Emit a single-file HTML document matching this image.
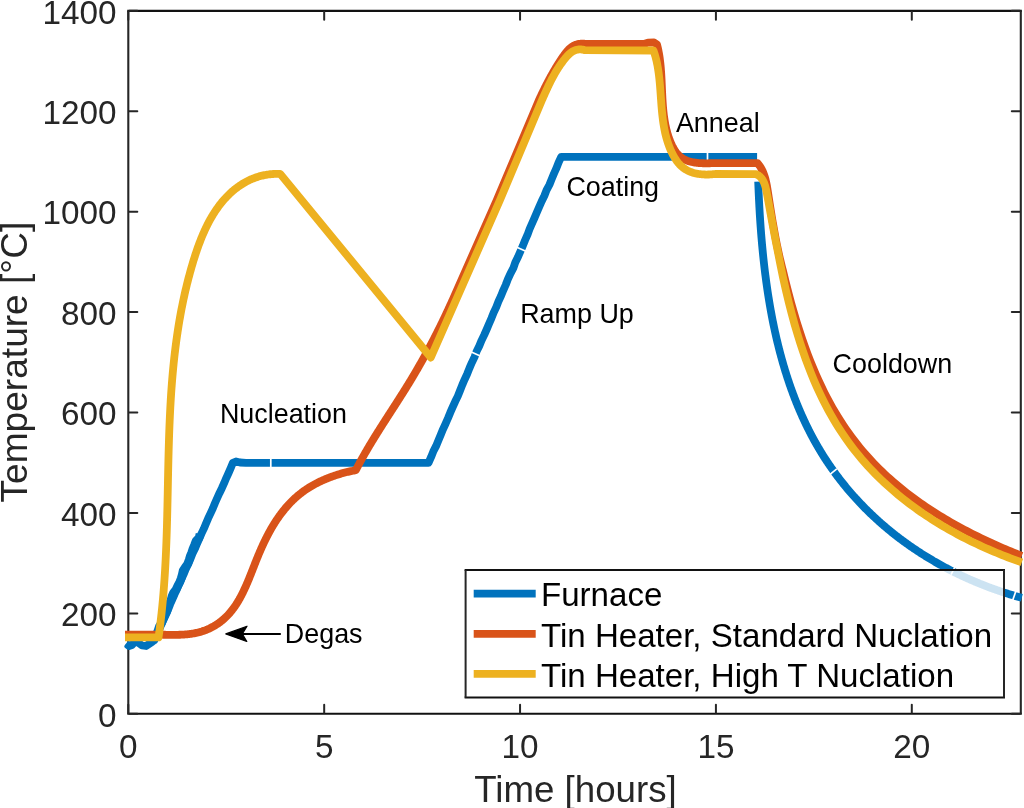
<!DOCTYPE html>
<html><head><meta charset="utf-8"><style>
html,body{margin:0;padding:0;background:#fff;width:1024px;height:808px;overflow:hidden}
svg text{font-family:"Liberation Sans",sans-serif}
svg{will-change:transform}
</style></head><body>
<svg width="1024" height="808" viewBox="0 0 1024 808" style="position:absolute;left:0;top:0">
<line x1="127.25" y1="10.85" x2="1021.85" y2="10.85" stroke="#121212" stroke-width="2.1"/>
<line x1="127.25" y1="713.8" x2="1021.85" y2="713.8" stroke="#121212" stroke-width="2.1"/>
<line x1="128.3" y1="10.85" x2="128.3" y2="713.8" stroke="#262626" stroke-width="2.1"/>
<line x1="1020.8" y1="10.85" x2="1020.8" y2="713.8" stroke="#262626" stroke-width="2.1"/>
<line x1="129.3" y1="713.8" x2="137.3" y2="713.8" stroke="#262626" stroke-width="2" stroke-linecap="round"/>
<line x1="1011.8" y1="713.8" x2="1019.8" y2="713.8" stroke="#262626" stroke-width="2" stroke-linecap="round"/>
<line x1="129.3" y1="613.38" x2="137.3" y2="613.38" stroke="#262626" stroke-width="2" stroke-linecap="round"/>
<line x1="1011.8" y1="613.38" x2="1019.8" y2="613.38" stroke="#262626" stroke-width="2" stroke-linecap="round"/>
<line x1="129.3" y1="512.96" x2="137.3" y2="512.96" stroke="#262626" stroke-width="2" stroke-linecap="round"/>
<line x1="1011.8" y1="512.96" x2="1019.8" y2="512.96" stroke="#262626" stroke-width="2" stroke-linecap="round"/>
<line x1="129.3" y1="412.53" x2="137.3" y2="412.53" stroke="#262626" stroke-width="2" stroke-linecap="round"/>
<line x1="1011.8" y1="412.53" x2="1019.8" y2="412.53" stroke="#262626" stroke-width="2" stroke-linecap="round"/>
<line x1="129.3" y1="312.11" x2="137.3" y2="312.11" stroke="#262626" stroke-width="2" stroke-linecap="round"/>
<line x1="1011.8" y1="312.11" x2="1019.8" y2="312.11" stroke="#262626" stroke-width="2" stroke-linecap="round"/>
<line x1="129.3" y1="211.69" x2="137.3" y2="211.69" stroke="#262626" stroke-width="2" stroke-linecap="round"/>
<line x1="1011.8" y1="211.69" x2="1019.8" y2="211.69" stroke="#262626" stroke-width="2" stroke-linecap="round"/>
<line x1="129.3" y1="111.27" x2="137.3" y2="111.27" stroke="#262626" stroke-width="2" stroke-linecap="round"/>
<line x1="1011.8" y1="111.27" x2="1019.8" y2="111.27" stroke="#262626" stroke-width="2" stroke-linecap="round"/>
<line x1="129.3" y1="10.85" x2="137.3" y2="10.85" stroke="#262626" stroke-width="2" stroke-linecap="round"/>
<line x1="1011.8" y1="10.85" x2="1019.8" y2="10.85" stroke="#262626" stroke-width="2" stroke-linecap="round"/>
<line x1="128.3" y1="712.8" x2="128.3" y2="704.8" stroke="#262626" stroke-width="2" stroke-linecap="round"/>
<line x1="128.3" y1="11.85" x2="128.3" y2="19.85" stroke="#262626" stroke-width="2" stroke-linecap="round"/>
<line x1="324.18" y1="712.8" x2="324.18" y2="704.8" stroke="#262626" stroke-width="2" stroke-linecap="round"/>
<line x1="324.18" y1="11.85" x2="324.18" y2="19.85" stroke="#262626" stroke-width="2" stroke-linecap="round"/>
<line x1="520.05" y1="712.8" x2="520.05" y2="704.8" stroke="#262626" stroke-width="2" stroke-linecap="round"/>
<line x1="520.05" y1="11.85" x2="520.05" y2="19.85" stroke="#262626" stroke-width="2" stroke-linecap="round"/>
<line x1="715.92" y1="712.8" x2="715.92" y2="704.8" stroke="#262626" stroke-width="2" stroke-linecap="round"/>
<line x1="715.92" y1="11.85" x2="715.92" y2="19.85" stroke="#262626" stroke-width="2" stroke-linecap="round"/>
<line x1="911.8" y1="712.8" x2="911.8" y2="704.8" stroke="#262626" stroke-width="2" stroke-linecap="round"/>
<line x1="911.8" y1="11.85" x2="911.8" y2="19.85" stroke="#262626" stroke-width="2" stroke-linecap="round"/>
<defs><clipPath id="ax"><rect x="124.3" y="6.85" width="900.5" height="710.95"/></clipPath></defs>
<g clip-path="url(#ax)">
<path d="M126,643.5 L129,646 L132,645 L135,641.5 L138,642.5 L142,645.5 L146,646 L149,644 L152,642 L154.5,640 L156.76,634.95 L159.06,629.91 L161.14,624.78 L163.46,619.75 L165.84,614.75 L168.08,609.69 L170.04,604.5 L172.31,599.45 L174.5,594.36 L176.88,589.36 L178.97,584.23 L181.36,579.24 L183.67,574.21 L185.78,569.08 L188.16,564.09 L190.37,559.01 L192.41,553.85 L194.84,548.88 L196.97,543.77 L199.27,538.73 L201.46,533.64 L203.85,528.65 L206,523.54 L208.13,518.44 L210.52,513.44 L212.84,508.41 L214.91,503.27 L217.12,498.2 L219.42,493.16 L221.86,488.18 L224.11,483.13 L226.24,478.02 L228.57,472.99 L230.79,467.92 L232.9,462.8 L236,461.5 L240,462.5 L246,462.8 L428.5,462.8 L431.03,457.2 L433.26,451.56 L436.03,446.15 L438.37,440.56 L440.66,434.94 L442.98,429.34 L445.5,423.83 L447.95,418.28 L450.23,412.66 L452.66,407.11 L455.17,401.59 L457.84,396.14 L460.07,390.5 L462.29,384.85 L464.69,379.28 L467.22,373.77 L469.47,368.14 L471.87,362.57 L474.48,357.09 L476.62,351.41 L479.28,345.96 L481.61,340.36 L484.24,334.89 L486.68,329.34 L489.05,323.76 L491.46,318.2 L493.66,312.55 L496.26,307.06 L498.46,301.41 L501.02,295.91 L503.27,290.28 L505.76,284.75 L507.92,279.08 L510.44,273.56 L513.32,268.2 L515.25,262.43 L517.96,257 L520.34,251.42 L522.8,245.88 L525.05,240.25 L527.53,234.72 L529.6,229.01 L532.02,223.44 L534.51,217.92 L536.89,212.34 L539.26,206.76 L541.69,201.21 L544.37,195.76 L546.54,190.09 L549.44,184.74 L551.68,179.11 L554,173.5 L556.51,167.98 L558.64,162.3 L561.2,156.8 L757.1,156.8" fill="none" stroke="#0072BD" stroke-width="7.8" stroke-linejoin="round" stroke-linecap="butt" />
<path d="M758.2,181.6 L758.24,182.6 L758.28,183.61 L758.32,184.61 L758.36,185.61 L758.4,186.61 L758.44,187.62 L758.48,188.62 L758.52,189.62 L758.57,190.62 L758.61,191.63 L758.65,192.63 L758.7,193.63 L758.74,194.63 L758.79,195.64 L758.84,196.64 L758.88,197.64 L758.93,198.64 L758.98,199.65 L759.03,200.65 L759.08,201.65 L759.13,202.65 L759.19,203.65 L759.24,204.66 L759.29,205.66 L759.35,206.66 L759.4,207.66 L759.46,208.66 L759.52,209.67 L759.57,210.67 L759.63,211.67 L759.69,212.67 L759.75,213.67 L759.81,214.67 L759.87,215.67 L759.94,216.68 L760,217.68 L760.07,218.68 L760.13,219.68 L760.2,220.68 L760.26,221.68 L760.33,222.68 L760.4,223.68 L760.47,224.69 L760.54,225.69 L760.61,226.69 L760.69,227.69 L760.76,228.69 L760.83,229.69 L760.91,230.69 L760.99,231.69 L761.06,232.69 L761.14,233.69 L761.22,234.69 L761.3,235.69 L761.38,236.69 L761.47,237.69 L761.55,238.69 L761.64,239.69 L761.72,240.69 L761.81,241.69 L761.9,242.69 L761.98,243.69 L762.07,244.69 L762.16,245.69 L762.26,246.69 L762.35,247.69 L762.44,248.69 L762.54,249.68 L762.64,250.68 L762.73,251.68 L762.83,252.68 L762.93,253.68 L763.03,254.68 L763.13,255.68 L763.24,256.67 L763.34,257.67 L763.45,258.67 L763.55,259.67 L763.66,260.66 L763.77,261.66 L763.88,262.66 L763.99,263.66 L764.11,264.65 L764.22,265.65 L764.34,266.65 L764.45,267.64 L764.57,268.64 L764.69,269.64 L764.81,270.63 L764.93,271.63 L765.05,272.63 L765.18,273.62 L765.3,274.62 L765.43,275.61 L765.56,276.61 L765.69,277.6 L765.82,278.6 L765.95,279.59 L766.08,280.59 L766.22,281.58 L766.35,282.57 L766.49,283.57 L766.63,284.56 L766.77,285.56 L766.91,286.55 L767.05,287.54 L767.2,288.54 L767.34,289.53 L767.49,290.52 L767.64,291.51 L767.79,292.51 L767.94,293.5 L768.09,294.49 L768.25,295.48 L768.4,296.47 L768.56,297.46 L768.72,298.45 L768.88,299.44 L769.04,300.43 L769.2,301.42 L769.37,302.41 L769.54,303.4 L769.7,304.39 L769.87,305.38 L770.04,306.37 L770.22,307.36 L770.39,308.35 L770.57,309.33 L770.74,310.32 L770.92,311.31 L771.1,312.3 L771.29,313.28 L771.47,314.27 L771.65,315.26 L771.84,316.24 L772.03,317.23 L772.22,318.21 L772.41,319.2 L772.61,320.18 L772.8,321.17 L773,322.15 L773.2,323.13 L773.4,324.12 L773.6,325.1 L773.8,326.08 L774.01,327.06 L774.22,328.05 L774.43,329.03 L774.64,330.01 L774.85,330.99 L775.06,331.97 L775.28,332.95 L775.5,333.93 L775.72,334.91 L775.94,335.89 L776.16,336.86 L776.39,337.84 L776.62,338.82 L776.85,339.8 L777.08,340.77 L777.31,341.75 L777.55,342.72 L777.78,343.7 L778.02,344.67 L778.26,345.65 L778.5,346.62 L778.75,347.59 L778.99,348.57 L779.24,349.54 L779.49,350.51 L779.75,351.48 L780,352.45 L780.26,353.42 L780.51,354.39 L780.77,355.36 L781.04,356.33 L781.3,357.3 L781.57,358.27 L781.83,359.23 L782.11,360.2 L782.38,361.16 L782.65,362.13 L782.93,363.09 L783.21,364.06 L783.49,365.02 L783.77,365.98 L784.06,366.95 L784.34,367.91 L784.63,368.87 L784.92,369.83 L785.22,370.79 L785.51,371.75 L785.81,372.71 L786.11,373.66 L786.42,374.62 L786.72,375.58 L787.03,376.53 L787.34,377.49 L787.65,378.44 L787.96,379.39 L788.28,380.34 L788.59,381.3 L788.92,382.25 L789.24,383.2 L789.56,384.15 L789.89,385.1 L790.22,386.04 L790.55,386.99 L790.89,387.94 L791.22,388.88 L791.56,389.83 L791.9,390.77 L792.25,391.71 L792.59,392.65 L792.94,393.59 L793.29,394.53 L793.65,395.47 L794,396.41 L794.36,397.35 L794.72,398.29 L795.08,399.22 L795.45,400.16 L795.82,401.09 L796.19,402.02 L796.56,402.95 L796.94,403.88 L797.31,404.81 L797.69,405.74 L798.08,406.67 L798.46,407.6 L798.85,408.52 L799.24,409.44 L799.63,410.37 L800.03,411.29 L800.43,412.21 L800.83,413.13 L801.23,414.05 L801.64,414.97 L802.05,415.88 L802.46,416.8 L802.87,417.71 L803.29,418.63 L803.71,419.54 L804.13,420.45 L804.56,421.36 L804.98,422.26 L805.41,423.17 L805.84,424.08 L806.28,424.98 L806.72,425.88 L807.16,426.79 L807.6,427.69 L808.05,428.58 L808.5,429.48 L808.95,430.38 L809.4,431.27 L809.86,432.17 L810.32,433.06 L810.78,433.95 L811.25,434.84 L811.72,435.72 L812.19,436.61 L812.66,437.5 L813.14,438.38 L813.62,439.26 L814.1,440.14 L814.58,441.02 L815.07,441.9 L815.56,442.77 L816.05,443.64 L816.55,444.52 L817.05,445.39 L817.55,446.26 L818.06,447.12 L818.56,447.99 L819.07,448.85 L819.59,449.72 L820.1,450.58 L820.62,451.43 L821.14,452.29 L821.67,453.15 L822.2,454 L822.73,454.85 L823.26,455.7 L823.8,456.55 L824.33,457.4 L824.88,458.24 L825.42,459.08 L825.97,459.92 L826.52,460.76 L827.07,461.6 L827.63,462.44 L828.19,463.27 L828.75,464.1 L829.31,464.93 L829.88,465.76 L830.45,466.58 L831.02,467.41 L831.6,468.23 L832.18,469.05 L832.76,469.87 L833.34,470.68 L833.93,471.5 L834.52,472.31 L835.11,473.12 L835.7,473.93 L836.3,474.74 L836.9,475.54 L837.5,476.34 L838.1,477.14 L838.71,477.94 L839.32,478.74 L839.93,479.53 L840.55,480.33 L841.17,481.12 L841.79,481.91 L842.41,482.69 L843.04,483.48 L843.66,484.26 L844.3,485.04 L844.93,485.82 L845.56,486.6 L846.2,487.37 L846.84,488.14 L847.49,488.91 L848.13,489.68 L848.78,490.45 L849.43,491.21 L850.08,491.97 L850.74,492.73 L851.4,493.49 L852.06,494.24 L852.72,495 L853.39,495.75 L854.06,496.5 L854.73,497.24 L855.4,497.99 L856.07,498.73 L856.75,499.47 L857.43,500.21 L858.11,500.94 L858.8,501.68 L859.48,502.41 L860.17,503.14 L860.86,503.87 L861.56,504.59 L862.25,505.31 L862.95,506.03 L863.65,506.75 L864.36,507.47 L865.06,508.18 L865.77,508.89 L866.48,509.6 L867.19,510.31 L867.9,511.02 L868.62,511.72 L869.34,512.42 L870.06,513.12 L870.78,513.81 L871.51,514.51 L872.24,515.2 L872.97,515.89 L873.7,516.57 L874.43,517.26 L875.17,517.94 L875.91,518.62 L876.65,519.3 L877.39,519.97 L878.13,520.64 L878.88,521.31 L879.63,521.98 L880.38,522.65 L881.13,523.31 L881.89,523.97 L882.64,524.63 L883.4,525.29 L884.16,525.94 L884.93,526.59 L885.69,527.24 L886.46,527.89 L887.23,528.53 L888,529.17 L888.77,529.81 L889.55,530.45 L890.33,531.08 L891.11,531.72 L891.89,532.35 L892.67,532.97 L893.45,533.6 L894.24,534.22 L895.03,534.84 L895.82,535.46 L896.61,536.07 L897.41,536.69 L898.2,537.3 L899,537.91 L899.8,538.51 L900.6,539.11 L901.41,539.71 L902.21,540.31 L903.02,540.91 L903.83,541.5 L904.64,542.09 L905.45,542.68 L906.27,543.27 L907.08,543.85 L907.9,544.43 L908.72,545.01 L909.54,545.59 L910.37,546.16 L911.19,546.74 L912.02,547.3 L912.84,547.87 L913.67,548.44 L914.51,549 L915.34,549.56 L916.17,550.11 L917.01,550.67 L917.85,551.22 L918.69,551.77 L919.53,552.32 L920.37,552.86 L921.21,553.41 L922.06,553.95 L922.91,554.48 L923.76,555.02 L924.61,555.55 L925.46,556.08 L926.31,556.61 L927.17,557.13 L928.02,557.66 L928.88,558.18 L929.74,558.69 L930.6,559.21 L931.46,559.72 L932.33,560.23 L933.19,560.74 L934.06,561.25 L934.93,561.75 L935.8,562.25 L936.67,562.75 L937.54,563.25 L938.41,563.74 L939.29,564.23 L940.17,564.72 L941.04,565.2 L941.92,565.69 L942.8,566.17 L943.69,566.65 L944.57,567.12 L945.45,567.6 L946.34,568.07 L947.23,568.54 L948.11,569 L949,569.47 L949.9,569.93 L950.79,570.39 L951.68,570.84 L952.58,571.3 L953.47,571.75 L954.37,572.2 L955.27,572.64 L956.17,573.09 L957.07,573.53 L957.97,573.97 L958.88,574.4 L959.78,574.84 L960.69,575.27 L961.59,575.7 L962.5,576.12 L963.41,576.55 L964.32,576.97 L965.24,577.39 L966.15,577.8 L967.06,578.21 L967.98,578.63 L968.89,579.03 L969.81,579.44 L970.73,579.84 L971.65,580.25 L972.57,580.64 L973.49,581.04 L974.42,581.43 L975.34,581.82 L976.27,582.21 L977.19,582.6 L978.12,582.98 L979.05,583.36 L979.98,583.74 L980.91,584.12 L981.84,584.49 L982.77,584.86 L983.71,585.23 L984.64,585.59 L985.58,585.95 L986.51,586.31 L987.45,586.67 L988.39,587.03 L989.33,587.38 L990.27,587.73 L991.21,588.08 L992.15,588.42 L993.1,588.76 L994.04,589.1 L994.98,589.44 L995.93,589.77 L996.88,590.1 L997.83,590.43 L998.77,590.76 L999.72,591.08 L1000.67,591.4 L1001.63,591.72 L1002.58,592.04 L1003.53,592.35 L1004.49,592.66 L1005.44,592.97 L1006.4,593.28 L1007.35,593.58 L1008.31,593.88 L1009.27,594.18 L1010.23,594.47 L1011.19,594.76 L1012.15,595.05 L1013.11,595.34 L1014.07,595.62 L1015.04,595.9 L1016,596.18 L1016.97,596.46 L1017.93,596.73 L1018.9,597 L1019.86,597.27 L1020.83,597.53 L1021.8,597.79" fill="none" stroke="#0072BD" stroke-width="7.8" stroke-linejoin="round" stroke-linecap="butt" />
<path d="M153,641 L155.32,637.62 L156.8,633.87 L158.24,630.09 L159.45,626.23 L161.67,622.8 L163.13,619.04 L164.61,615.29 L166.65,611.78 L167.81,607.89 L168.99,604.01 L170.91,600.45 L171.95,596.5 L173.56,592.81 L176.06,589.51 L177.78,585.86 L179.71,582.31 L181.13,578.53 L182.24,574.62 L183.12,570.6 L185.4,567.2 L187.74,563.83 L189.13,560.04 L190.25,556.13 L191.82,552.42 L193.05,548.55 L194.61,544.84 L196.06,541.07 L199.03,537.97 L200,534" fill="none" stroke="#0072BD" stroke-width="8.6" stroke-linejoin="round" stroke-linecap="butt" />
<line x1="270.8" y1="457.3" x2="270.8" y2="468.3" stroke="#fff" stroke-width="1.7"/>
<line x1="470.75" y1="351.82" x2="480.85" y2="356.18" stroke="#fff" stroke-width="1.7"/>
<line x1="515.75" y1="246.82" x2="525.85" y2="251.18" stroke="#fff" stroke-width="1.7"/>
<line x1="707.5" y1="151.3" x2="707.5" y2="162.3" stroke="#fff" stroke-width="1.7"/>
<line x1="836.79" y1="468.96" x2="828.21" y2="475.84" stroke="#fff" stroke-width="1.7"/>
<line x1="955.96" y1="564.88" x2="951.04" y2="574.72" stroke="#fff" stroke-width="1.7"/>
<line x1="1015.82" y1="591.31" x2="1012.18" y2="601.69" stroke="#fff" stroke-width="1.7"/>
<path d="M125,634.7 L160,634.7 L161.01,634.71 L162.01,634.72 L163.02,634.73 L164.03,634.75 L165.04,634.76 L166.04,634.78 L167.05,634.79 L168.06,634.8 L169.06,634.82 L170.07,634.83 L171.08,634.84 L172.08,634.84 L173.09,634.84 L174.1,634.84 L175.11,634.84 L176.11,634.83 L177.12,634.81 L178.13,634.79 L179.13,634.76 L180.14,634.73 L181.15,634.69 L182.15,634.64 L183.16,634.58 L184.16,634.52 L185.17,634.45 L186.17,634.37 L187.17,634.27 L188.18,634.17 L189.18,634.06 L190.18,633.93 L191.17,633.8 L192.17,633.65 L193.16,633.49 L194.16,633.32 L195.15,633.13 L196.13,632.93 L197.12,632.71 L198.1,632.48 L199.07,632.23 L200.04,631.96 L201.01,631.68 L201.97,631.39 L202.93,631.07 L203.88,630.74 L204.83,630.4 L205.77,630.04 L206.7,629.66 L207.63,629.27 L208.55,628.86 L209.47,628.44 L210.37,628 L211.27,627.55 L212.17,627.08 L213.05,626.6 L213.93,626.11 L214.8,625.6 L215.66,625.08 L216.51,624.54 L217.35,623.99 L218.18,623.42 L219.01,622.84 L219.82,622.25 L220.63,621.64 L221.42,621.02 L222.2,620.39 L222.97,619.74 L223.74,619.08 L224.48,618.41 L225.22,617.72 L225.95,617.03 L226.67,616.32 L227.37,615.6 L228.06,614.87 L228.75,614.13 L229.42,613.38 L230.08,612.62 L230.73,611.85 L231.36,611.07 L231.99,610.28 L232.61,609.48 L233.21,608.68 L233.81,607.87 L234.39,607.05 L234.97,606.22 L235.54,605.39 L236.09,604.55 L236.64,603.7 L237.18,602.85 L237.7,601.99 L238.22,601.13 L238.73,600.26 L239.24,599.39 L239.73,598.51 L240.22,597.63 L240.7,596.75 L241.17,595.86 L241.64,594.96 L242.1,594.07 L242.55,593.17 L243,592.26 L243.44,591.36 L243.87,590.45 L244.3,589.54 L244.72,588.63 L245.14,587.71 L245.56,586.79 L245.97,585.87 L246.37,584.95 L246.77,584.03 L247.17,583.1 L247.57,582.17 L247.96,581.25 L248.34,580.32 L248.73,579.39 L249.11,578.45 L249.49,577.52 L249.87,576.59 L250.24,575.65 L250.62,574.72 L250.99,573.78 L251.36,572.84 L251.73,571.91 L252.1,570.97 L252.46,570.03 L252.83,569.1 L253.2,568.16 L253.57,567.22 L253.93,566.28 L254.3,565.34 L254.67,564.41 L255.04,563.47 L255.41,562.53 L255.78,561.6 L256.15,560.66 L256.53,559.73 L256.91,558.79 L257.28,557.86 L257.67,556.93 L258.05,556 L258.44,555.07 L258.82,554.14 L259.22,553.21 L259.61,552.28 L260.01,551.36 L260.41,550.43 L260.81,549.51 L261.22,548.59 L261.63,547.67 L262.05,546.75 L262.46,545.84 L262.88,544.92 L263.31,544.01 L263.74,543.1 L264.17,542.19 L264.61,541.28 L265.05,540.37 L265.49,539.47 L265.94,538.57 L266.39,537.67 L266.85,536.77 L267.31,535.87 L267.77,534.98 L268.24,534.09 L268.72,533.2 L269.19,532.32 L269.68,531.43 L270.17,530.55 L270.66,529.67 L271.16,528.8 L271.66,527.93 L272.17,527.06 L272.69,526.19 L273.21,525.33 L273.73,524.47 L274.26,523.61 L274.8,522.76 L275.34,521.91 L275.89,521.07 L276.44,520.22 L277,519.39 L277.56,518.55 L278.13,517.72 L278.71,516.9 L279.29,516.08 L279.88,515.26 L280.48,514.45 L281.08,513.64 L281.69,512.84 L282.3,512.04 L282.92,511.25 L283.55,510.46 L284.19,509.68 L284.83,508.9 L285.48,508.13 L286.13,507.36 L286.79,506.6 L287.46,505.85 L288.13,505.1 L288.81,504.36 L289.5,503.63 L290.2,502.9 L290.9,502.17 L291.61,501.46 L292.32,500.75 L293.05,500.05 L293.78,499.35 L294.51,498.67 L295.25,497.99 L296,497.31 L296.76,496.65 L297.52,495.99 L298.29,495.34 L299.07,494.7 L299.85,494.07 L300.64,493.44 L301.44,492.83 L302.24,492.22 L303.05,491.62 L303.87,491.03 L304.69,490.44 L305.51,489.87 L306.35,489.31 L307.19,488.75 L308.03,488.2 L308.88,487.66 L309.74,487.13 L310.6,486.61 L311.47,486.1 L312.34,485.59 L313.22,485.09 L314.1,484.6 L314.98,484.12 L315.87,483.65 L316.76,483.18 L317.66,482.73 L318.56,482.28 L319.46,481.83 L320.37,481.4 L321.28,480.97 L322.2,480.55 L323.12,480.14 L324.04,479.73 L324.96,479.33 L325.89,478.94 L326.82,478.56 L327.76,478.18 L328.69,477.81 L329.63,477.45 L330.57,477.09 L331.52,476.74 L332.47,476.4 L333.42,476.06 L334.37,475.73 L335.32,475.41 L336.28,475.09 L337.24,474.78 L338.2,474.48 L339.16,474.19 L340.12,473.9 L341.09,473.62 L342.06,473.34 L343.03,473.07 L344,472.81 L344.98,472.55 L345.95,472.31 L346.93,472.06 L347.91,471.83 L348.89,471.6 L349.87,471.38 L350.86,471.17 L351.84,470.96 L352.83,470.76 L353.82,470.56 L354.81,470.38 L355.8,470.2 L356.26,469.31 L356.72,468.41 L357.19,467.52 L357.65,466.63 L358.12,465.74 L358.6,464.86 L359.07,463.97 L359.55,463.09 L360.03,462.2 L360.51,461.32 L360.99,460.44 L361.48,459.56 L361.96,458.68 L362.45,457.8 L362.95,456.92 L363.44,456.05 L363.94,455.17 L364.43,454.3 L364.93,453.43 L365.43,452.56 L365.94,451.69 L366.44,450.82 L366.95,449.95 L367.46,449.08 L367.97,448.22 L368.48,447.35 L368.99,446.49 L369.51,445.62 L370.02,444.76 L370.54,443.9 L371.06,443.04 L371.58,442.18 L372.1,441.32 L372.62,440.46 L373.15,439.6 L373.67,438.75 L374.2,437.89 L374.73,437.03 L375.26,436.18 L375.79,435.33 L376.32,434.47 L376.85,433.62 L377.38,432.77 L377.91,431.91 L378.45,431.06 L378.98,430.21 L379.52,429.36 L380.06,428.51 L380.6,427.66 L381.13,426.82 L381.67,425.97 L382.21,425.12 L382.75,424.27 L383.3,423.42 L383.84,422.58 L384.38,421.73 L384.92,420.89 L385.46,420.04 L386.01,419.19 L386.55,418.35 L387.09,417.5 L387.64,416.66 L388.18,415.81 L388.73,414.97 L389.27,414.12 L389.82,413.28 L390.36,412.43 L390.91,411.59 L391.45,410.74 L392,409.9 L392.54,409.06 L393.09,408.21 L393.63,407.37 L394.18,406.52 L394.72,405.68 L395.27,404.83 L395.81,403.99 L396.35,403.14 L396.9,402.29 L397.44,401.45 L397.98,400.6 L398.52,399.76 L399.06,398.91 L399.61,398.06 L400.15,397.21 L400.69,396.37 L401.22,395.52 L401.76,394.67 L402.3,393.82 L402.84,392.97 L403.37,392.12 L403.91,391.27 L404.44,390.42 L404.98,389.57 L405.51,388.71 L406.04,387.86 L406.57,387.01 L407.1,386.15 L407.63,385.3 L408.16,384.44 L408.68,383.59 L409.21,382.73 L409.73,381.87 L410.26,381.01 L410.78,380.15 L411.3,379.29 L411.82,378.43 L412.33,377.57 L412.85,376.71 L413.36,375.84 L413.88,374.98 L414.39,374.11 L414.9,373.25 L415.41,372.38 L415.92,371.52 L416.43,370.65 L416.93,369.78 L417.44,368.91 L417.94,368.04 L418.44,367.17 L418.94,366.3 L419.44,365.43 L419.94,364.55 L420.44,363.68 L420.93,362.8 L421.43,361.93 L421.92,361.05 L422.41,360.18 L422.9,359.3 L423.39,358.42 L423.88,357.54 L424.37,356.66 L424.86,355.78 L425.34,354.9 L425.82,354.02 L426.3,353.14 L426.79,352.26 L427.27,351.37 L427.74,350.49 L428.22,349.6 L428.7,348.72 L429.17,347.83 L429.64,346.95 L430.12,346.06 L430.59,345.17 L431.06,344.28 L431.53,343.39 L431.99,342.5 L432.46,341.61 L432.92,340.72 L433.39,339.83 L433.85,338.94 L434.31,338.04 L434.77,337.15 L435.23,336.25 L435.69,335.36 L436.14,334.46 L436.6,333.57 L437.05,332.67 L437.5,331.77 L437.95,330.88 L438.4,329.98 L438.85,329.08 L439.3,328.18 L439.75,327.28 L440.19,326.38 L440.64,325.47 L441.08,324.57 L441.52,323.67 L441.96,322.77 L442.4,321.86 L442.84,320.96 L443.28,320.05 L443.71,319.15 L444.15,318.24 L444.58,317.33 L445.01,316.43 L445.45,315.52 L445.88,314.61 L446.3,313.7 L446.73,312.79 L447.16,311.88 L447.58,310.97 L448.01,310.06 L448.43,309.15 L448.85,308.23 L449.27,307.32 L449.69,306.41 L450.11,305.49 L450.53,304.58 L450.95,303.66 L451.36,302.75 L451.78,301.83 L452.19,300.92 L452.6,300 L496.8,200 L539,100 L539.43,99.07 L539.86,98.14 L540.29,97.22 L540.72,96.29 L541.16,95.36 L541.6,94.44 L542.04,93.52 L542.48,92.6 L542.93,91.68 L543.38,90.76 L543.83,89.84 L544.28,88.92 L544.73,88 L545.19,87.09 L545.65,86.18 L546.11,85.26 L546.58,84.35 L547.05,83.44 L547.52,82.54 L548,81.63 L548.47,80.73 L548.96,79.82 L549.44,78.92 L549.93,78.02 L550.42,77.13 L550.91,76.23 L551.41,75.34 L551.91,74.45 L552.41,73.56 L552.92,72.67 L553.43,71.78 L553.94,70.9 L554.46,70.02 L554.98,69.14 L555.51,68.26 L556.04,67.38 L556.57,66.51 L557.11,65.64 L557.65,64.77 L558.19,63.9 L558.74,63.04 L559.29,62.18 L559.85,61.32 L560.41,60.47 L560.97,59.61 L561.54,58.76 L562.11,57.91 L562.69,57.07 L563.27,56.23 L563.86,55.39 L564.45,54.56 L565.06,53.74 L565.69,52.93 L566.32,52.13 L566.98,51.34 L567.66,50.58 L568.36,49.83 L569.08,49.11 L569.83,48.41 L570.61,47.75 L571.42,47.13 L572.26,46.54 L573.13,46 L574.03,45.52 L574.96,45.09 L575.91,44.71 L576.88,44.4 L577.87,44.14 L578.87,43.94 L579.89,43.8 L580.91,43.71 L581.93,43.67 L582.95,43.68 L583.97,43.74 L584.99,43.85 L586,44 L644,44 L648,42.6 L654,42.5 L657,44.5 L657.26,45.48 L657.5,46.46 L657.74,47.44 L657.97,48.43 L658.18,49.42 L658.39,50.41 L658.59,51.4 L658.78,52.39 L658.96,53.39 L659.13,54.39 L659.3,55.39 L659.45,56.38 L659.6,57.39 L659.75,58.39 L659.88,59.39 L660.01,60.39 L660.13,61.4 L660.25,62.4 L660.36,63.41 L660.47,64.41 L660.57,65.42 L660.66,66.43 L660.75,67.44 L660.84,68.45 L660.92,69.45 L660.99,70.46 L661.07,71.47 L661.14,72.48 L661.2,73.49 L661.27,74.5 L661.33,75.51 L661.39,76.52 L661.44,77.53 L661.5,78.54 L661.55,79.55 L661.6,80.56 L661.65,81.57 L661.69,82.58 L661.74,83.59 L661.78,84.61 L661.83,85.62 L661.87,86.63 L661.92,87.64 L661.96,88.65 L662.01,89.66 L662.05,90.67 L662.1,91.68 L662.14,92.69 L662.19,93.7 L662.24,94.71 L662.29,95.72 L662.34,96.73 L662.39,97.74 L662.45,98.75 L662.51,99.76 L662.57,100.77 L662.63,101.78 L662.7,102.79 L662.77,103.8 L662.84,104.81 L662.92,105.82 L663,106.83 L663.09,107.84 L663.18,108.85 L663.27,109.85 L663.37,110.86 L663.48,111.87 L663.59,112.87 L663.7,113.88 L663.83,114.88 L663.95,115.89 L664.09,116.89 L664.23,117.89 L664.38,118.89 L664.53,119.89 L664.69,120.89 L664.86,121.89 L665.04,122.88 L665.23,123.88 L665.42,124.87 L665.62,125.86 L665.83,126.85 L666.05,127.84 L666.29,128.82 L666.53,129.81 L666.78,130.79 L667.04,131.77 L667.31,132.74 L667.59,133.71 L667.88,134.68 L668.18,135.65 L668.5,136.61 L668.82,137.57 L669.16,138.52 L669.51,139.47 L669.87,140.41 L670.25,141.35 L670.64,142.29 L671.04,143.22 L671.45,144.14 L671.88,145.06 L672.32,145.97 L672.78,146.87 L673.25,147.76 L673.75,148.64 L674.27,149.51 L674.81,150.37 L675.37,151.21 L675.95,152.04 L676.56,152.84 L677.2,153.63 L677.86,154.39 L678.55,155.13 L679.27,155.84 L680.02,156.52 L680.8,157.17 L681.61,157.78 L682.44,158.35 L683.31,158.88 L684.19,159.37 L685.1,159.82 L686.02,160.23 L686.96,160.61 L687.91,160.95 L688.88,161.26 L689.85,161.54 L690.83,161.79 L691.81,162.02 L692.81,162.22 L693.8,162.4 L694.8,162.56 L695.8,162.7 L696.81,162.82 L697.81,162.93 L698.82,163.02 L699.83,163.09 L700.84,163.15 L701.85,163.2 L702.86,163.24 L703.87,163.26 L704.88,163.28 L705.9,163.29 L706.91,163.29 L707.92,163.28 L708.93,163.27 L709.94,163.25 L710.95,163.22 L711.97,163.2 L712.98,163.16 L713.99,163.13 L715,163.1 L757.5,163.2 L758.17,163.96 L758.8,164.75 L759.41,165.56 L759.99,166.39 L760.54,167.23 L761.07,168.1 L761.57,168.98 L762.04,169.88 L762.48,170.79 L762.9,171.71 L763.3,172.64 L763.67,173.58 L764.02,174.53 L764.35,175.49 L764.66,176.45 L764.96,177.42 L765.24,178.39 L765.5,179.37 L765.74,180.35 L765.98,181.34 L766.2,182.32 L766.41,183.31 L766.61,184.31 L766.8,185.3 L766.99,186.3 L767.16,187.29 L767.33,188.29 L767.5,189.29 L767.66,190.29 L767.82,191.29 L767.98,192.29 L768.13,193.29 L768.28,194.29 L768.44,195.29 L768.59,196.29 L768.75,197.29 L768.9,198.29 L769.06,199.29 L769.21,200.29 L769.37,201.29 L769.52,202.29 L769.68,203.29 L769.84,204.29 L769.99,205.29 L770.15,206.29 L770.31,207.29 L770.47,208.29 L770.63,209.29 L770.79,210.29 L770.95,211.29 L771.11,212.29 L771.27,213.29 L771.43,214.29 L771.59,215.29 L771.76,216.29 L771.92,217.29 L772.09,218.28 L772.25,219.28 L772.42,220.28 L772.59,221.28 L772.76,222.28 L772.93,223.27 L773.1,224.27 L773.27,225.27 L773.45,226.27 L773.62,227.26 L773.8,228.26 L773.98,229.26 L774.15,230.25 L774.33,231.25 L774.52,232.25 L774.7,233.24 L774.88,234.24 L775.07,235.23 L775.26,236.23 L775.44,237.22 L775.63,238.22 L775.83,239.21 L776.02,240.2 L776.21,241.2 L776.41,242.19 L776.61,243.18 L776.81,244.17 L777.01,245.17 L777.21,246.16 L777.42,247.15 L777.63,248.14 L777.84,249.13 L778.05,250.12 L778.26,251.11 L778.47,252.1 L778.69,253.09 L778.91,254.08 L779.13,255.06 L779.36,256.05 L779.58,257.04 L779.81,258.02 L780.04,259.01 L780.27,259.99 L780.51,260.98 L780.74,261.96 L780.98,262.95 L781.23,263.93 L781.47,264.91 L781.72,265.89 L781.97,266.88 L782.22,267.86 L782.47,268.84 L782.73,269.81 L782.99,270.79 L785.73,282.22 L788.48,293.01 L791.22,303.22 L793.97,312.89 L796.71,322.05 L799.46,330.73 L802.2,338.97 L804.95,346.8 L807.69,354.24 L810.44,361.32 L813.18,368.07 L815.93,374.5 L818.67,380.64 L821.42,386.5 L824.16,392.1 L826.91,397.46 L829.65,402.6 L832.4,407.53 L835.14,412.25 L837.89,416.79 L840.63,421.16 L843.38,425.36 L846.12,429.4 L848.87,433.3 L851.61,437.07 L854.36,440.7 L857.1,444.22 L859.85,447.62 L862.59,450.91 L865.34,454.1 L868.08,457.19 L870.83,460.19 L873.57,463.1 L876.32,465.94 L879.06,468.69 L881.81,471.37 L884.55,473.98 L887.3,476.53 L890.04,479.01 L892.79,481.43 L895.53,483.79 L898.28,486.1 L901.02,488.36 L903.77,490.56 L906.51,492.72 L909.26,494.83 L912,496.9 L914.75,498.92 L917.49,500.9 L920.24,502.85 L922.98,504.75 L925.73,506.62 L928.47,508.46 L931.22,510.26 L933.96,512.03 L936.71,513.77 L939.45,515.47 L942.2,517.15 L944.94,518.8 L947.69,520.42 L950.43,522.01 L953.18,523.57 L955.92,525.12 L958.67,526.63 L961.41,528.12 L964.16,529.59 L966.9,531.04 L969.65,532.46 L972.39,533.86 L975.14,535.24 L977.88,536.6 L980.63,537.94 L983.37,539.26 L986.12,540.56 L988.86,541.84 L991.61,543.1 L994.35,544.34 L997.1,545.57 L999.84,546.78 L1002.59,547.97 L1005.33,549.14 L1008.08,550.3 L1010.82,551.44 L1013.57,552.56 L1016.31,553.67 L1019.06,554.76 L1021.8,555.84" fill="none" stroke="#D95319" stroke-width="7.8" stroke-linejoin="round" stroke-linecap="butt" />
<path d="M125,637.4 L158.5,637.4 L158.64,636.41 L158.79,635.42 L158.93,634.42 L159.06,633.43 L159.2,632.44 L159.34,631.45 L159.47,630.45 L159.6,629.46 L159.73,628.47 L159.86,627.47 L159.99,626.48 L160.11,625.48 L160.24,624.49 L160.36,623.49 L160.48,622.5 L160.6,621.51 L160.72,620.51 L160.84,619.51 L160.96,618.52 L161.07,617.52 L161.18,616.53 L161.29,615.53 L161.41,614.54 L161.51,613.54 L161.62,612.54 L161.73,611.55 L161.83,610.55 L161.94,609.55 L162.04,608.56 L162.14,607.56 L162.24,606.56 L162.34,605.57 L162.43,604.57 L162.53,603.57 L162.62,602.57 L162.72,601.57 L162.81,600.58 L162.9,599.58 L162.99,598.58 L163.08,597.58 L163.16,596.58 L163.25,595.59 L163.33,594.59 L163.42,593.59 L163.5,592.59 L163.58,591.59 L163.66,590.59 L163.74,589.59 L163.82,588.59 L163.89,587.59 L163.97,586.6 L164.04,585.6 L164.12,584.6 L164.19,583.6 L164.26,582.6 L164.33,581.6 L164.4,580.6 L164.47,579.6 L164.53,578.6 L164.6,577.6 L164.67,576.6 L164.73,575.6 L164.79,574.6 L164.86,573.6 L164.92,572.6 L164.98,571.6 L165.04,570.6 L165.09,569.6 L165.15,568.6 L165.21,567.6 L165.27,566.6 L165.32,565.59 L165.37,564.59 L165.43,563.59 L165.48,562.59 L165.53,561.59 L165.58,560.59 L165.63,559.59 L165.68,558.59 L165.73,557.59 L165.78,556.59 L165.82,555.59 L165.87,554.58 L165.92,553.58 L165.96,552.58 L166,551.58 L166.05,550.58 L166.09,549.58 L166.13,548.58 L166.17,547.58 L166.21,546.58 L166.25,545.57 L166.29,544.57 L166.33,543.57 L166.37,542.57 L166.41,541.57 L166.44,540.57 L166.48,539.57 L166.52,538.56 L166.55,537.56 L166.59,536.56 L166.62,535.56 L166.65,534.56 L166.69,533.56 L166.72,532.55 L166.75,531.55 L166.78,530.55 L166.81,529.55 L166.84,528.55 L166.87,527.55 L166.9,526.54 L166.93,525.54 L166.96,524.54 L166.99,523.54 L167.02,522.54 L167.04,521.54 L167.07,520.53 L167.1,519.53 L167.12,518.53 L167.15,517.53 L167.18,516.53 L167.2,515.53 L167.23,514.52 L167.25,513.52 L167.27,512.52 L167.3,511.52 L167.32,510.52 L167.35,509.51 L167.37,508.51 L167.39,507.51 L167.42,506.51 L167.44,505.51 L167.46,504.51 L167.48,503.5 L167.5,502.5 L167.53,501.5 L167.55,500.5 L167.57,499.5 L167.59,498.49 L167.61,497.49 L167.63,496.49 L167.65,495.49 L167.68,494.49 L167.7,493.48 L167.72,492.48 L167.74,491.48 L167.76,490.48 L167.78,489.48 L167.8,488.47 L167.82,487.47 L167.84,486.47 L167.86,485.47 L167.88,484.47 L167.9,483.47 L167.92,482.46 L167.94,481.46 L167.96,480.46 L167.98,479.46 L168,478.46 L168.02,477.45 L168.05,476.45 L168.07,475.45 L168.09,474.45 L168.11,473.45 L168.13,472.44 L168.15,471.44 L168.17,470.44 L168.2,469.44 L168.22,468.44 L168.24,467.43 L168.26,466.43 L168.28,465.43 L168.31,464.43 L168.33,463.43 L168.35,462.43 L168.38,461.42 L168.4,460.42 L168.42,459.42 L168.45,458.42 L168.47,457.42 L168.5,456.41 L168.52,455.41 L168.55,454.41 L168.58,453.41 L168.6,452.41 L168.63,451.41 L168.66,450.4 L168.68,449.4 L168.71,448.4 L168.74,447.4 L168.77,446.4 L168.8,445.39 L168.83,444.39 L168.86,443.39 L168.89,442.39 L168.92,441.39 L168.95,440.39 L168.98,439.38 L169.01,438.38 L169.05,437.38 L169.08,436.38 L169.11,435.38 L169.15,434.38 L169.18,433.38 L169.22,432.37 L169.25,431.37 L169.29,430.37 L169.33,429.37 L169.37,428.37 L169.4,427.37 L169.44,426.37 L169.48,425.36 L169.52,424.36 L169.57,423.36 L169.61,422.36 L169.65,421.36 L169.69,420.36 L169.74,419.36 L169.78,418.36 L169.83,417.35 L169.87,416.35 L169.92,415.35 L169.97,414.35 L170.02,413.35 L170.07,412.35 L170.12,411.35 L170.17,410.35 L170.22,409.35 L170.27,408.35 L170.32,407.35 L170.38,406.34 L170.43,405.34 L170.49,404.34 L170.55,403.34 L170.6,402.34 L170.66,401.34 L170.72,400.34 L170.78,399.34 L170.84,398.34 L170.91,397.34 L170.97,396.34 L171.03,395.34 L171.1,394.34 L171.16,393.34 L171.23,392.34 L171.3,391.34 L171.37,390.34 L171.44,389.34 L171.51,388.34 L171.58,387.34 L171.66,386.34 L171.73,385.34 L171.81,384.35 L171.88,383.35 L171.96,382.35 L172.04,381.35 L172.12,380.35 L172.2,379.35 L172.28,378.35 L172.37,377.35 L172.45,376.35 L172.54,375.36 L172.63,374.36 L172.71,373.36 L172.8,372.36 L172.9,371.36 L172.99,370.37 L173.08,369.37 L173.18,368.37 L173.27,367.37 L173.37,366.37 L173.47,365.38 L173.57,364.38 L173.67,363.38 L173.77,362.39 L173.87,361.39 L173.98,360.39 L174.09,359.4 L174.19,358.4 L174.3,357.4 L174.41,356.41 L174.53,355.41 L174.64,354.42 L174.75,353.42 L174.87,352.43 L174.99,351.43 L175.11,350.44 L175.23,349.44 L175.35,348.45 L175.47,347.45 L175.6,346.46 L175.73,345.46 L175.85,344.47 L175.98,343.48 L176.12,342.48 L176.25,341.49 L176.38,340.5 L176.52,339.5 L176.66,338.51 L176.8,337.52 L176.94,336.53 L177.08,335.53 L177.22,334.54 L177.37,333.55 L177.52,332.56 L177.66,331.57 L177.82,330.58 L177.97,329.59 L178.12,328.6 L178.28,327.61 L178.43,326.62 L178.59,325.63 L178.75,324.64 L178.92,323.65 L179.08,322.66 L179.25,321.67 L179.41,320.69 L179.58,319.7 L179.76,318.71 L179.93,317.72 L180.1,316.74 L180.28,315.75 L180.46,314.76 L180.64,313.78 L180.82,312.79 L181.01,311.81 L181.19,310.82 L181.38,309.84 L181.57,308.85 L181.76,307.87 L181.95,306.89 L182.15,305.9 L182.35,304.92 L182.55,303.94 L182.75,302.96 L182.95,301.98 L183.15,301 L183.36,300.02 L183.57,299.03 L183.78,298.06 L183.99,297.08 L184.21,296.1 L184.42,295.12 L184.64,294.14 L184.86,293.16 L185.09,292.19 L185.31,291.21 L185.54,290.23 L185.77,289.26 L186,288.28 L186.23,287.31 L186.47,286.33 L186.7,285.36 L186.94,284.39 L187.18,283.41 L187.43,282.44 L187.67,281.47 L187.92,280.5 L188.17,279.53 L188.42,278.56 L188.67,277.59 L188.93,276.62 L189.19,275.65 L189.45,274.68 L189.71,273.72 L189.98,272.75 L190.24,271.78 L190.51,270.82 L190.78,269.85 L191.06,268.89 L191.33,267.93 L191.61,266.96 L191.89,266 L192.17,265.04 L192.46,264.08 L192.74,263.12 L193.03,262.16 L193.32,261.2 L193.61,260.24 L193.91,259.28 L194.21,258.33 L194.51,257.37 L194.82,256.42 L195.12,255.46 L195.43,254.51 L195.75,253.56 L196.06,252.61 L196.38,251.66 L196.7,250.71 L197.03,249.76 L197.36,248.81 L197.69,247.87 L198.03,246.93 L198.37,245.98 L198.71,245.04 L199.06,244.1 L199.41,243.16 L199.77,242.23 L200.13,241.29 L200.49,240.36 L200.86,239.43 L201.23,238.49 L201.61,237.57 L201.99,236.64 L202.37,235.71 L202.77,234.79 L203.16,233.87 L203.56,232.95 L203.97,232.04 L204.38,231.12 L204.79,230.21 L205.22,229.3 L205.64,228.39 L206.07,227.49 L206.51,226.59 L206.95,225.69 L207.4,224.79 L207.86,223.9 L208.32,223.01 L208.78,222.12 L209.26,221.24 L209.74,220.36 L210.22,219.48 L210.71,218.61 L211.21,217.74 L211.71,216.87 L212.23,216.01 L212.74,215.15 L213.27,214.3 L213.8,213.45 L214.34,212.6 L214.88,211.76 L215.43,210.93 L215.99,210.1 L216.56,209.27 L217.13,208.45 L217.71,207.63 L218.3,206.82 L218.9,206.01 L219.5,205.21 L220.11,204.42 L220.73,203.63 L221.36,202.85 L221.99,202.07 L222.63,201.3 L223.28,200.54 L223.94,199.78 L224.6,199.03 L225.28,198.29 L225.96,197.55 L226.64,196.82 L227.34,196.1 L228.04,195.39 L228.76,194.69 L229.48,193.99 L230.2,193.3 L230.94,192.62 L231.68,191.95 L232.44,191.28 L233.2,190.63 L233.96,189.99 L234.74,189.35 L235.52,188.73 L236.31,188.11 L237.11,187.51 L237.92,186.91 L238.73,186.33 L239.56,185.76 L240.39,185.2 L241.22,184.65 L242.07,184.11 L242.92,183.58 L243.78,183.07 L244.65,182.57 L245.52,182.08 L246.4,181.6 L247.29,181.13 L248.19,180.68 L249.09,180.24 L250,179.82 L250.91,179.41 L251.83,179.01 L252.76,178.63 L253.69,178.26 L254.63,177.9 L255.57,177.56 L256.52,177.24 L257.47,176.93 L258.43,176.63 L259.39,176.35 L260.35,176.08 L261.32,175.83 L262.3,175.59 L263.27,175.37 L264.25,175.17 L265.24,174.97 L266.22,174.8 L267.21,174.64 L268.21,174.49 L269.2,174.36 L270.19,174.25 L271.19,174.14 L272.19,174.06 L273.19,173.99 L274.19,173.93 L275.19,173.89 L276.19,173.86 L277.2,173.85 L278.2,173.85 L279.2,173.87 L280.2,173.9 L430.8,357.5 L500,200 L542,100 L542.42,99.06 L542.83,98.12 L543.25,97.19 L543.67,96.25 L544.09,95.31 L544.51,94.37 L544.93,93.44 L545.36,92.5 L545.78,91.57 L546.21,90.63 L546.64,89.7 L547.07,88.77 L547.5,87.84 L547.94,86.91 L548.38,85.98 L548.83,85.06 L549.27,84.13 L549.73,83.21 L550.18,82.29 L550.64,81.37 L551.11,80.46 L551.58,79.55 L552.05,78.63 L552.53,77.73 L553.02,76.82 L553.51,75.92 L554,75.02 L554.51,74.13 L555.01,73.23 L555.53,72.35 L556.05,71.46 L556.58,70.58 L557.12,69.71 L557.66,68.84 L558.21,67.97 L558.77,67.11 L559.34,66.25 L559.91,65.4 L560.5,64.56 L561.09,63.72 L561.69,62.88 L562.3,62.06 L562.91,61.24 L563.54,60.42 L564.18,59.62 L564.82,58.82 L565.48,58.03 L566.14,57.25 L566.82,56.48 L567.51,55.72 L568.23,54.98 L568.96,54.26 L569.72,53.57 L570.51,52.92 L571.33,52.3 L572.19,51.73 L573.07,51.21 L573.99,50.74 L574.93,50.34 L575.9,50.01 L576.9,49.75 L577.9,49.56 L578.92,49.44 L579.95,49.4 L580.98,49.43 L582,49.53 L583.01,49.69 L584.01,49.92 L585,50.2 L653.5,50.5 L653.83,51.45 L654.16,52.41 L654.47,53.37 L654.76,54.34 L655.05,55.31 L655.33,56.28 L655.59,57.25 L655.85,58.23 L656.1,59.21 L656.33,60.19 L656.56,61.18 L656.78,62.16 L656.99,63.15 L657.19,64.14 L657.38,65.13 L657.57,66.13 L657.74,67.12 L657.91,68.12 L658.08,69.12 L658.23,70.11 L658.38,71.11 L658.53,72.11 L658.66,73.11 L658.8,74.12 L658.92,75.12 L659.04,76.12 L659.16,77.13 L659.27,78.13 L659.38,79.13 L659.48,80.14 L659.58,81.14 L659.68,82.15 L659.77,83.16 L659.86,84.16 L659.95,85.17 L660.03,86.18 L660.11,87.18 L660.19,88.19 L660.27,89.2 L660.35,90.21 L660.42,91.21 L660.49,92.22 L660.57,93.23 L660.64,94.24 L660.71,95.24 L660.78,96.25 L660.85,97.26 L660.92,98.27 L660.99,99.28 L661.07,100.28 L661.14,101.29 L661.21,102.3 L661.29,103.31 L661.36,104.31 L661.44,105.32 L661.52,106.33 L661.61,107.34 L661.69,108.34 L661.78,109.35 L661.87,110.36 L661.96,111.36 L662.06,112.37 L662.16,113.37 L662.26,114.38 L662.37,115.38 L662.48,116.39 L662.6,117.39 L662.72,118.39 L662.85,119.4 L662.98,120.4 L663.12,121.4 L663.26,122.4 L663.41,123.4 L663.57,124.4 L663.73,125.39 L663.89,126.39 L664.07,127.39 L664.25,128.38 L664.44,129.37 L664.64,130.36 L664.84,131.35 L665.05,132.34 L665.27,133.33 L665.5,134.31 L665.74,135.29 L665.99,136.27 L666.24,137.25 L666.51,138.22 L666.78,139.2 L667.07,140.17 L667.36,141.13 L667.67,142.1 L667.98,143.06 L668.31,144.01 L668.65,144.96 L669,145.91 L669.36,146.86 L669.73,147.8 L670.11,148.73 L670.5,149.66 L670.91,150.59 L671.32,151.51 L671.75,152.42 L672.2,153.33 L672.65,154.23 L673.12,155.13 L673.6,156.02 L674.1,156.89 L674.62,157.76 L675.15,158.62 L675.7,159.47 L676.27,160.31 L676.86,161.13 L677.46,161.94 L678.09,162.73 L678.74,163.5 L679.41,164.26 L680.1,164.99 L680.82,165.71 L681.55,166.4 L682.32,167.06 L683.1,167.7 L683.91,168.3 L684.74,168.88 L685.59,169.42 L686.46,169.93 L687.35,170.41 L688.26,170.86 L689.18,171.28 L690.11,171.67 L691.05,172.03 L692.01,172.36 L692.97,172.67 L693.94,172.95 L694.92,173.2 L695.9,173.43 L696.89,173.64 L697.89,173.82 L698.88,173.98 L699.88,174.12 L700.89,174.24 L701.89,174.33 L702.9,174.41 L703.91,174.47 L704.92,174.51 L705.93,174.53 L706.94,174.53 L707.95,174.52 L708.96,174.49 L709.97,174.45 L710.98,174.39 L711.99,174.31 L712.99,174.22 L714,174.12 L715,174 L756,174.1 L756.92,174.53 L757.8,175.03 L758.65,175.59 L759.45,176.21 L760.2,176.89 L760.91,177.62 L761.56,178.4 L762.15,179.22 L762.7,180.08 L763.2,180.96 L763.65,181.87 L764.06,182.8 L764.44,183.74 L764.78,184.7 L765.09,185.66 L765.38,186.64 L765.64,187.62 L765.88,188.6 L766.11,189.59 L766.33,190.58 L766.53,191.58 L766.73,192.57 L766.92,193.57 L767.1,194.57 L767.29,195.56 L767.48,196.56 L767.66,197.56 L767.85,198.56 L768.03,199.56 L768.21,200.55 L768.4,201.55 L768.58,202.55 L768.76,203.55 L768.95,204.55 L769.13,205.55 L769.31,206.54 L769.49,207.54 L769.68,208.54 L769.86,209.54 L770.04,210.54 L770.22,211.54 L770.4,212.54 L770.59,213.53 L770.77,214.53 L770.95,215.53 L771.13,216.53 L771.31,217.53 L771.5,218.53 L771.68,219.52 L771.86,220.52 L772.04,221.52 L772.23,222.52 L772.41,223.52 L772.6,224.52 L772.78,225.51 L772.96,226.51 L773.15,227.51 L773.34,228.51 L773.52,229.5 L773.71,230.5 L773.9,231.5 L774.08,232.5 L774.27,233.49 L774.46,234.49 L774.65,235.49 L774.84,236.49 L775.03,237.48 L775.23,238.48 L775.42,239.47 L775.61,240.47 L775.81,241.47 L776.01,242.46 L776.2,243.46 L776.4,244.45 L776.6,245.45 L776.8,246.44 L777,247.44 L777.2,248.43 L777.41,249.43 L777.61,250.42 L780.42,264.87 L783.23,278.33 L786.03,290.89 L788.84,302.61 L791.65,313.58 L794.45,323.86 L797.26,333.5 L800.07,342.55 L802.87,351.08 L805.68,359.12 L808.49,366.7 L811.29,373.88 L814.1,380.67 L816.91,387.11 L819.71,393.24 L822.52,399.06 L825.33,404.61 L828.13,409.91 L830.94,414.97 L833.75,419.81 L836.56,424.46 L839.36,428.91 L842.17,433.19 L844.98,437.31 L847.78,441.27 L850.59,445.1 L853.4,448.79 L856.2,452.36 L859.01,455.81 L861.82,459.15 L864.62,462.39 L867.43,465.53 L870.24,468.57 L873.04,471.54 L875.85,474.42 L878.66,477.22 L881.46,479.94 L884.27,482.6 L887.08,485.19 L889.88,487.72 L892.69,490.18 L895.5,492.58 L898.3,494.93 L901.11,497.23 L903.92,499.47 L906.72,501.66 L909.53,503.81 L912.34,505.91 L915.14,507.96 L917.95,509.97 L920.76,511.94 L923.56,513.86 L926.37,515.75 L929.18,517.6 L931.98,519.41 L934.79,521.19 L937.6,522.93 L940.4,524.64 L943.21,526.31 L946.02,527.95 L948.82,529.56 L951.63,531.14 L954.44,532.69 L957.24,534.21 L960.05,535.71 L962.86,537.17 L965.67,538.61 L968.47,540.02 L971.28,541.4 L974.09,542.76 L976.89,544.09 L979.7,545.4 L982.51,546.69 L985.31,547.95 L988.12,549.19 L990.93,550.4 L993.73,551.6 L996.54,552.77 L999.35,553.92 L1002.15,555.05 L1004.96,556.16 L1007.77,557.25 L1010.57,558.32 L1013.38,559.37 L1016.19,560.4 L1018.99,561.41 L1021.8,562.41" fill="none" stroke="#EDB120" stroke-width="7.8" stroke-linejoin="round" stroke-linecap="butt" />
</g>
<text x="116.5" y="726.5" text-anchor="end" font-size="33.3" fill="#262626">0</text>
<text x="116.5" y="626.08" text-anchor="end" font-size="33.3" fill="#262626">200</text>
<text x="116.5" y="525.66" text-anchor="end" font-size="33.3" fill="#262626">400</text>
<text x="116.5" y="425.23" text-anchor="end" font-size="33.3" fill="#262626">600</text>
<text x="116.5" y="324.81" text-anchor="end" font-size="33.3" fill="#262626">800</text>
<text x="116.5" y="224.39" text-anchor="end" font-size="33.3" fill="#262626">1000</text>
<text x="116.5" y="123.97" text-anchor="end" font-size="33.3" fill="#262626">1200</text>
<text x="116.5" y="23.55" text-anchor="end" font-size="33.3" fill="#262626">1400</text>
<text x="128.3" y="758.3" text-anchor="middle" font-size="33.3" fill="#262626">0</text>
<text x="324.18" y="758.3" text-anchor="middle" font-size="33.3" fill="#262626">5</text>
<text x="520.05" y="758.3" text-anchor="middle" font-size="33.3" fill="#262626">10</text>
<text x="715.92" y="758.3" text-anchor="middle" font-size="33.3" fill="#262626">15</text>
<text x="911.8" y="758.3" text-anchor="middle" font-size="33.3" fill="#262626">20</text>
<text x="575.5" y="802" text-anchor="middle" font-size="36.7" fill="#262626">Time [hours]</text>
<text transform="translate(26.7,362.1) rotate(-90)" text-anchor="middle" font-size="37.1" fill="#262626">Temperature [°C]</text>
<text x="219.9" y="422.5" font-size="26.9" fill="#000">Nucleation</text>
<text x="284.8" y="643.3" font-size="26.9" fill="#000">Degas</text>
<text x="520.2" y="322.8" font-size="26.9" fill="#000">Ramp Up</text>
<text x="566.4" y="196.3" font-size="26.9" fill="#000">Coating</text>
<text x="675.9" y="131.8" font-size="26.9" fill="#000">Anneal</text>
<text x="832.6" y="372.5" font-size="26.9" fill="#000">Cooldown</text>
<line x1="240" y1="633.9" x2="280.8" y2="633.9" stroke="#000" stroke-width="2"/>
<path d="M225.8,633.9 L247,626.2 L242.3,633.9 L246.8,641.5 Z" fill="#000" stroke="#000" stroke-width="1.2" stroke-linejoin="round"/>
<rect x="465.6" y="570.1" width="538.4" height="127.5" fill="#fff" fill-opacity="0.8" stroke="none"/>
<line x1="464.6" y1="570.1" x2="1005" y2="570.1" stroke="#121212" stroke-width="2"/>
<line x1="464.6" y1="697.6" x2="1005" y2="697.6" stroke="#121212" stroke-width="2"/>
<line x1="465.6" y1="570.1" x2="465.6" y2="697.6" stroke="#262626" stroke-width="2"/>
<line x1="1004" y1="570.1" x2="1004" y2="697.6" stroke="#262626" stroke-width="2"/>
<line x1="473.7" y1="593.7" x2="535.7" y2="593.7" stroke="#0072BD" stroke-width="7.8"/>
<text x="541" y="606.4" font-size="33.1" fill="#000">Furnace</text>
<line x1="473.7" y1="633.8" x2="535.7" y2="633.8" stroke="#D95319" stroke-width="7.8"/>
<text x="541" y="646.5" font-size="33.1" fill="#000">Tin Heater, Standard Nuclation</text>
<line x1="473.7" y1="673.9" x2="535.7" y2="673.9" stroke="#EDB120" stroke-width="7.8"/>
<text x="541" y="686.6" font-size="33.1" fill="#000">Tin Heater, High T Nuclation</text>
</svg>
</body></html>
